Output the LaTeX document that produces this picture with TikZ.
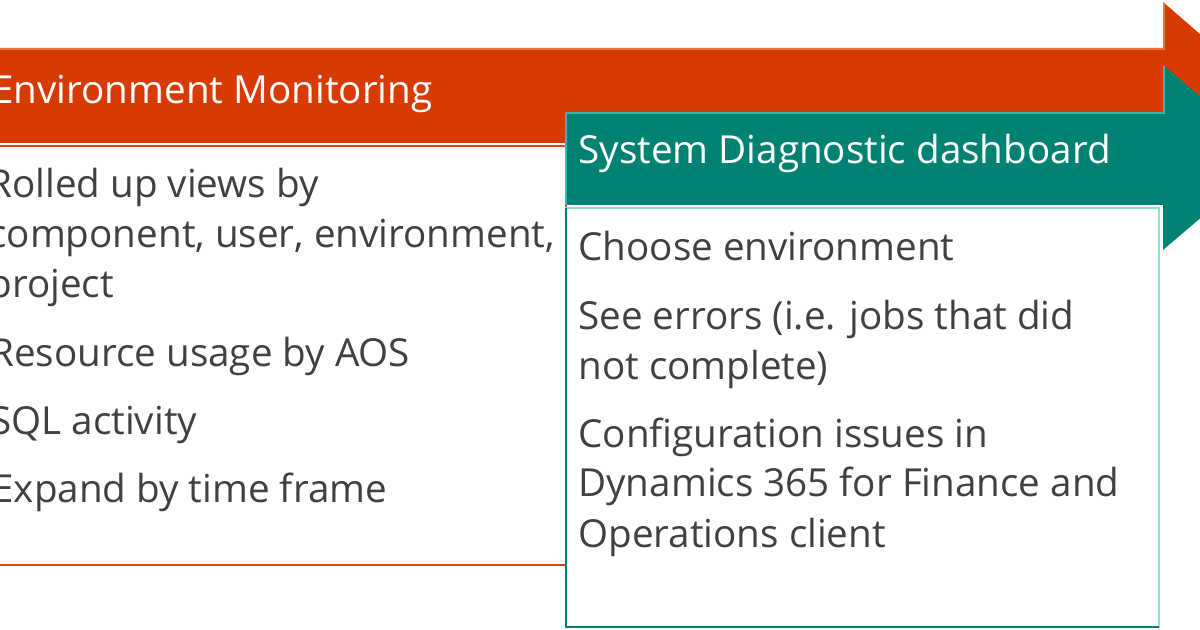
\documentclass[tikz,border=0pt]{standalone}
\usepackage{fontspec}
\setmainfont{Open Sans}
\usetikzlibrary{positioning}
\definecolor{monorange}{HTML}{D83B01}
\definecolor{monlight}{HTML}{F0713F}
\definecolor{monred}{HTML}{E2401E}
\definecolor{diagteal}{HTML}{008272}
\definecolor{diaglight}{HTML}{3DB5A6}
\definecolor{diagline}{HTML}{8FDFD6}
\definecolor{bodygray}{HTML}{404040}
\begin{document}
\begin{tikzpicture}[x=0.5pt, y=-0.5pt,
  headtext/.style={text=white, font=\fontsize{19.3}{24}\selectfont, inner sep=0pt, anchor=base west},
  itemtext/.style={text=bodygray, font=\fontsize{19.3}{25}\selectfont, inner sep=0pt, anchor=base west, align=left}]
  \clip (0,0) rectangle (1200,630);
  % left box and orange arrow
  \draw[monred, line width=1pt, fill=white] (-20,146) rectangle (566,565);
  \fill[monorange] (-20,48) -- (1163,48) -- (1163,2) -- (1270,95) -- (1163,188) -- (1163,143) -- (-20,143) -- cycle;
  \draw[monlight, line width=1pt] (-20,49) -- (1164,49) -- (1164,3);
  % right box and teal arrow
  \draw[diagline, line width=1pt, fill=white] (566,208) rectangle (1159,627);
  \draw[diagteal, line width=1pt] (566,208) -- (566,627) -- (1159,627);
  \fill[diagteal] (565,112) -- (1163,112) -- (1163,65) -- (1272,157) -- (1163,250) -- (1163,205) -- (565,205) -- cycle;
  \draw[diaglight, line width=1pt] (566,205) -- (566,113) -- (1164,113) -- (1164,66);
  % texts (multi-line nodes sit on their last baseline)
  \node[headtext] (montitle) at (-8,104) {Environment Monitoring};
  \node[headtext] (diagtitle) at (578,164) {System Diagnostic dashboard};
  \node[itemtext] (rolled) at (-12,298) {Rolled up views by\\component, user, environment,\\project};
  \node[itemtext] (resource) at (-10,367) {Resource usage by AOS};
  \node[itemtext] (sql) at (-10,435) {SQL activity};
  \node[itemtext] (expand) at (-8,503) {Expand by time frame};
  \node[itemtext] (choose) at (578,261) {Choose environment};
  \node[itemtext] (errors) at (578,380) {See errors (i.e. jobs that did\\not complete)};
  \node[itemtext] (config) at (578,547) {Configuration issues in\\Dynamics 365 for Finance and\\Operations client};
\end{tikzpicture}
\end{document}
